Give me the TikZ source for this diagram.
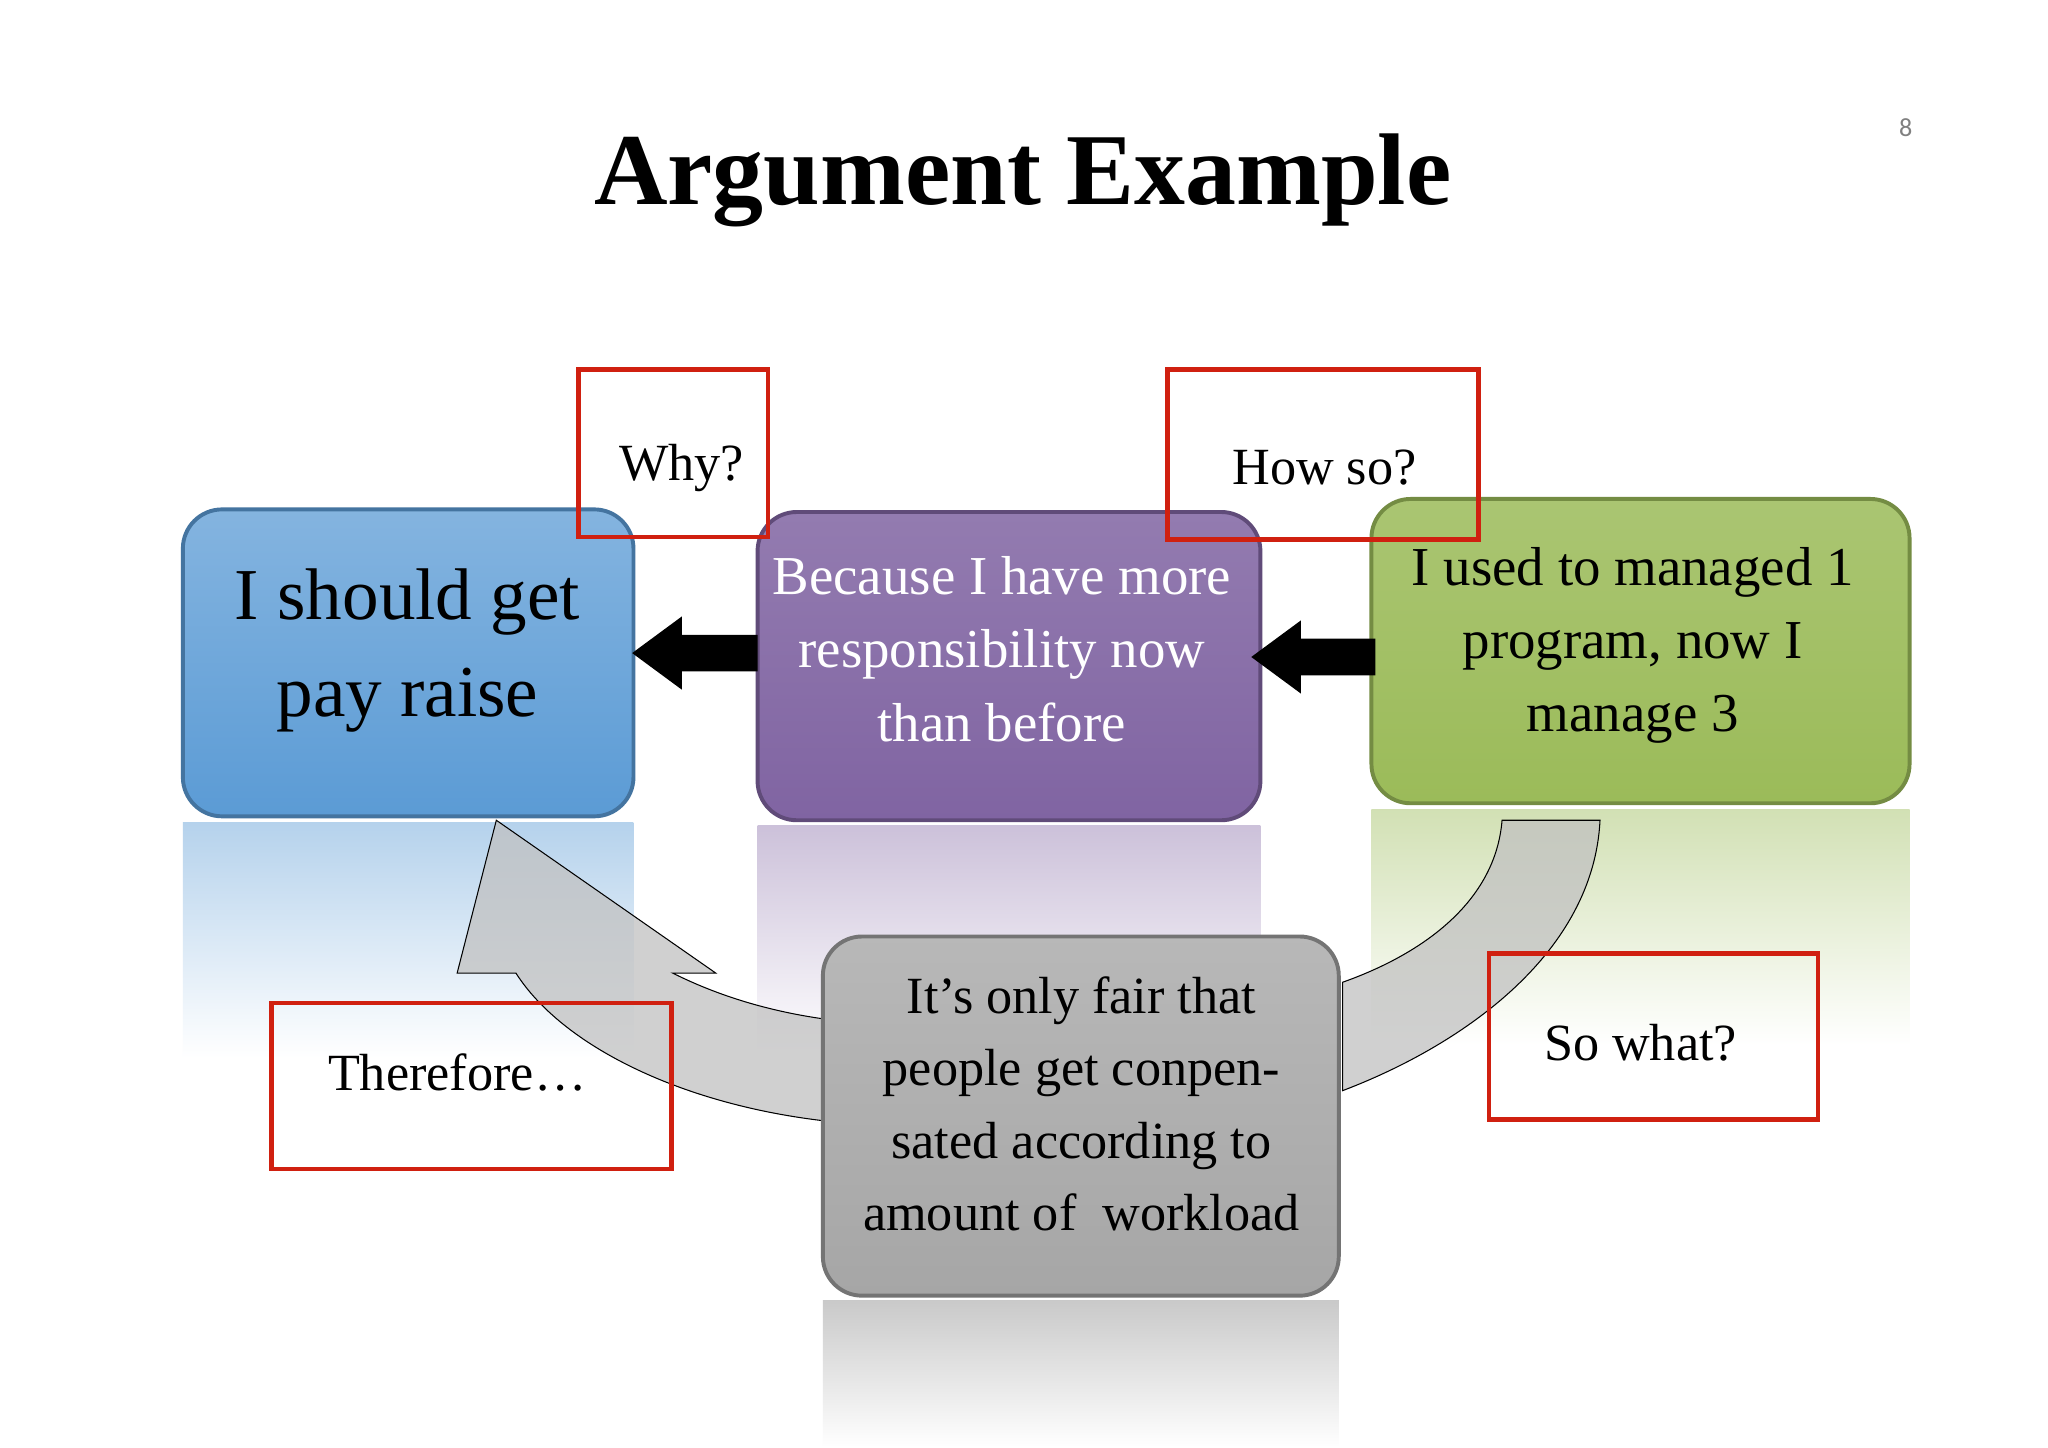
\documentclass[tikz,border=0pt]{standalone}
\usepackage{fontspec}
\setmainfont{Liberation Serif}
\newfontfamily\pgnum{Carlito}
\usetikzlibrary{shapes.arrows}
\definecolor{cblue}{HTML}{5B9BD5}
\definecolor{cpurple}{HTML}{8064A2}
\definecolor{cgreen}{HTML}{9BBB59}
\definecolor{cgray}{HTML}{A6A6A6}
\definecolor{cred}{HTML}{D02010}
\tikzset{
  boxst/.style={rounded corners=30pt, line width=3pt},
  redbox/.style={draw=cred, line width=3.5pt},
  refl/.style={draw=none},
  lbl/.style={align=center, inner sep=0pt},
  curv/.style={fill=cgray!70, fill opacity=0.75, draw=black, line width=0.8pt}
}
\begin{document}
\begin{tikzpicture}[x=1pt,y=-1pt]
\fill[white] (0,0) rectangle (1568,1108);
\useasboundingbox (0,0) rectangle (1568,1108);
% title & page number
\node[lbl, font=\fontsize{78}{90}\selectfont\bfseries] (title) at (783,138) {Argument Example};
\node[lbl, font=\pgnum\fontsize{20}{24}\selectfont, text=gray] (pg) at (1459,98) {8};
% reflections
\shade[refl, top color=cblue!45, bottom color=white] (140,630) rectangle (485,810);
\shade[refl, top color=cpurple!40, bottom color=white] (580,632) rectangle (965,810);
\shade[refl, top color=cgreen!45, bottom color=white] (1050,620) rectangle (1462,800);
\shade[refl, top color=cgray!60, bottom color=white] (630,996) rectangle (1025,1108);
% curved arrows
\path[curv] (630,858) .. controls (520,845) and (430,800) .. (395,745)
  -- (350,745) -- (380,628) -- (548,745) -- (515,745)
  .. controls (555,765) and (595,775) .. (630,780) -- cycle;
\path[curv] (1225,628) .. controls (1220,730) and (1120,800) .. (1028,835)
  -- (1028,752) .. controls (1090,730) and (1145,690) .. (1150,628) -- cycle;
% boxes
\draw[boxst, draw=cblue!75!black, top color=cblue!75!white, bottom color=cblue] (140,390) rectangle (485,625);
\draw[boxst, draw=cpurple!75!black, top color=cpurple!85!white, bottom color=cpurple] (580,392) rectangle (965,628);
\draw[boxst, draw=cgreen!75!black, top color=cgreen!85!white, bottom color=cgreen] (1050,382) rectangle (1462,615);
\draw[boxst, draw=cgray!70!black, top color=cgray!80!white, bottom color=cgray] (630,717) rectangle (1025,992);
\node[lbl, font=\fontsize{56}{74}\selectfont] (blue) at (312,498) {I should get\\pay raise};
\node[lbl, font=\fontsize{42}{56}\selectfont, text=white] (purple) at (767,497) {Because I have more\\responsibility now\\than before};
\node[lbl, font=\fontsize{42}{56}\selectfont] (green) at (1250,494) {I used to managed 1\\program, now I\\manage 3};
\node[lbl, font=\fontsize{40}{55.5}\selectfont] (gray) at (828,845) {It’s only fair that\\people get conpen-\\sated according to\\amount of\ \ workload};
% straight arrows
\coordinate (pl) at (580,500); \coordinate (br) at (484,500);
\coordinate (gl) at (1053,503); \coordinate (pr) at (958,503);
\fill[black] (pl) ++(0,-14) -- ++(-58,0) -- ++(0,-14) -- (br) -- ++(38,28) -- ++(0,-14) -- ++(58,0) -- cycle;
\fill[black] (gl) ++(0,-14) -- ++(-57,0) -- ++(0,-14) -- (pr) -- ++(38,28) -- ++(0,-14) -- ++(57,0) -- cycle;
% red boxes
\draw[redbox] (443,283) rectangle (588,411);
\draw[redbox] (894,283) rectangle (1132,413);
\draw[redbox] (208,768) rectangle (514,895);
\draw[redbox] (1140,730) rectangle (1392,857);
\node[lbl, font=\fontsize{40}{48}\selectfont] (why) at (522,358) {Why?};
\node[lbl, font=\fontsize{40}{48}\selectfont] (how) at (1014,358) {How so?};
\node[lbl, font=\fontsize{40}{48}\selectfont] (there) at (350,821) {Therefore…};
\node[lbl, font=\fontsize{40}{48}\selectfont] (sowhat) at (1256,798) {So what?};
\end{tikzpicture}
\end{document}
